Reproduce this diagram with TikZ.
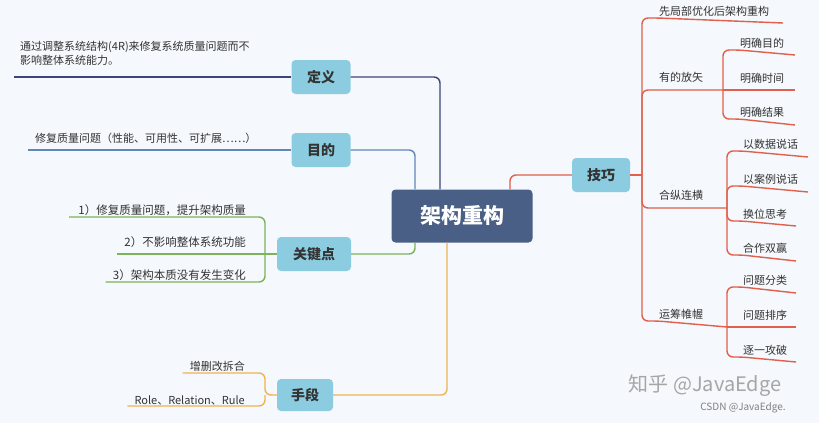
\documentclass[tikz,border=0pt]{standalone}
\usepackage{fontspec}
\setmainfont{Noto Sans CJK SC}
\definecolor{bgcol}{RGB}{245,248,252}
\definecolor{rootcol}{RGB}{74,95,133}
\definecolor{boxcol}{RGB}{140,204,224}
\definecolor{defcol}{RGB}{62,70,120}
\definecolor{aimcol}{RGB}{95,135,185}
\definecolor{keycol}{RGB}{125,180,90}
\definecolor{waycol}{RGB}{240,180,80}
\definecolor{tipcol}{RGB}{225,95,75}

\tikzset{
  topic/.style={fill=boxcol, rounded corners=4pt, minimum height=34pt, font=\fontsize{14}{16}\selectfont\bfseries, text=black!80},
  leaf/.style={font=\fontsize{11}{14}\selectfont, text=black!80, inner sep=1pt},
  edge/.style={line width=1.4pt, rounded corners=6pt}
}

\begin{document}
\begin{tikzpicture}[x=1pt,y=-1pt]
\fill[bgcol] (0,0) rectangle (819,423);
\useasboundingbox (0,0) rectangle (819,423);

% root
\node[fill=rootcol, rounded corners=4pt, minimum width=141pt, minimum height=53pt, text=white,
  font=\fontsize{21}{23}\selectfont\bfseries] (root) at (462,216) {架构重构};

% left side
\node[topic, minimum width=59pt] (def) at (321,77) {定义};
\node[topic, minimum width=59pt] (aim) at (321,150) {目的};
\node[topic, minimum width=74pt] (key) at (314,254) {关键点};
\node[topic, minimum width=56pt, minimum height=32pt] (way) at (305,395) {手段};

\draw[edge, defcol] (def.east) -| (root.north -| 440,0);
\draw[edge, aimcol] (aim.east) -| (root.north -| 415,0);
\draw[edge, keycol] (key.east) -| (root.south -| 415,0);
\draw[edge, waycol] (root.south -| 447,0) |- (way.east);

% definition
\node[leaf, anchor=north west, align=left] (deftext) at (19,40) {通过调整系统结构(4R)来修复系统质量问题而不\\影响整体系统能力。};
\coordinate (defend) at (14,77);
\draw[edge, defcol] (def.west) -- (defend);

% aim
\node[leaf, anchor=south west] (aimtext) at (34,145) {修复质量问题（性能、可用性、可扩展……）};
\coordinate (aimend) at (28,150);
\draw[edge, aimcol] (aim.west) -- (aimend);

% key points
\node[leaf, font=\fontsize{11.5}{14}\selectfont, anchor=south east] (k1) at (247,217) {1）修复质量问题，提升架构质量};
\node[leaf, font=\fontsize{11.5}{14}\selectfont, anchor=south east] (k2) at (247,249) {2）不影响整体系统功能};
\node[leaf, font=\fontsize{11.5}{14}\selectfont, anchor=south east] (k3) at (247,282) {3）架构本质没有发生变化};
\draw[edge, keycol] (key.west) -- (k2.south west |- key.west) -- ++(-6,0);
\draw[edge, keycol] (265,254) |- (k1.south west) -- ++(-8,0);
\draw[edge, keycol] (265,254) |- (k3.south west) -- ++(-4,0);

% means
\node[leaf, anchor=south east] (w1) at (246,373) {增删改拆合};
\node[leaf, anchor=south east] (w2) at (246,406) {Role、Relation、Rule};
\draw[edge, waycol] (way.west) -- (265,395) |- (w1.south west) -- ++(-6,0);
\draw[edge, waycol] (265,395) |- (w2.south west) -- ++(-6,0);

% tips
\node[topic, minimum width=58pt] (tip) at (601,175) {技巧};
\draw[edge, tipcol] (root.north -| 510,0) |- (tip.west);

\node[leaf, anchor=south west] (t1) at (658,18) {先局部优化后架构重构};
\node[leaf, anchor=south west] (t2) at (658,84) {有的放矢};
\node[leaf, anchor=south west] (t3) at (658,202) {合纵连横};
\node[leaf, anchor=south west] (t4) at (658,321) {运筹帷幄};
\draw[edge, tipcol] (tip.east) -- (642,175);
\draw[edge, tipcol] (642,175) |- (t1.south west) -- (783,23);
\draw[edge, tipcol] (642,175) |- (t4.south west) -- (727,327);
\draw[edge, tipcol] (642,175) -- (642,90) -- (723,90);
\draw[edge, tipcol] (642,175) |- (727,208);

% sub items
\foreach \name/\txt/\y in {a1/明确目的/50, a2/明确时间/85, a3/明确结果/119}
  \node[leaf, anchor=south west] (\name) at (739,\y) {\txt};
\foreach \name/\txt/\y in {b1/以数据说话/151, b2/以案例说话/186, b3/换位思考/221, b4/合作双赢/255}
  \node[leaf, anchor=south west] (\name) at (742,\y) {\txt};
\foreach \name/\txt/\y in {c1/问题分类/287, c2/问题排序/322, c3/逐一攻破/357}
  \node[leaf, anchor=south west] (\name) at (742,\y) {\txt};

\draw[edge, tipcol] (723,90) |- (a1.south west) -- (795,55);
\draw[edge, tipcol] (723,90) -- (795,90);
\draw[edge, tipcol] (723,90) |- (a3.south west) -- (795,125);
\draw[edge, tipcol] (727,208) |- (b1.south west) -- (808,157);
\draw[edge, tipcol] (727,208) |- (b2.south west) -- (808,192);
\draw[edge, tipcol] (727,208) |- (b3.south west) -- (796,226);
\draw[edge, tipcol] (727,208) |- (b4.south west) -- (796,261);
\draw[edge, tipcol] (727,327) |- (c1.south west) -- (796,293);
\draw[edge, tipcol] (727,327) -- (796,327);
\draw[edge, tipcol] (727,327) |- (c3.south west) -- (796,362);

% watermarks
\node[font=\fontsize{20}{22}\selectfont, text=black!35] (zhihu) at (705,386) {知乎 @JavaEdge};
\node[font=\fontsize{10}{12}\selectfont, text=black!50] (csdn) at (743,408) {CSDN @JavaEdge.};
\end{tikzpicture}
\end{document}
